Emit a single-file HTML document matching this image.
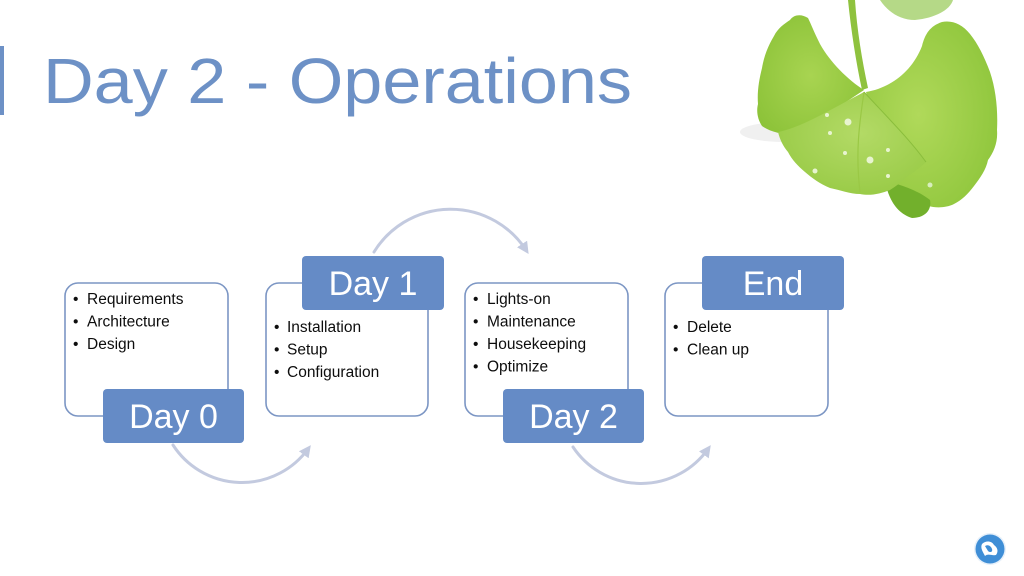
<!DOCTYPE html>
<html>
<head>
<meta charset="utf-8">
<style>
  html,body{margin:0;padding:0;background:#ffffff;}
  body{width:1024px;height:576px;overflow:hidden;}
  svg{display:block;}
  .t{font-family:"Liberation Sans",sans-serif;}
</style>
</head>
<body>
<svg width="1024" height="576" viewBox="0 0 1024 576" xmlns="http://www.w3.org/2000/svg">
  <defs>
    <marker id="ah" viewBox="0 0 10 10" refX="6" refY="5" markerWidth="4" markerHeight="4" orient="auto">
      <path d="M0,0 L10,5 L0,10 Z" fill="#c3cadf"/>
    </marker>
    <radialGradient id="lg" cx="0.4" cy="0.5" r="0.65">
      <stop offset="0" stop-color="#b0d95a"/>
      <stop offset="1" stop-color="#8fc63c"/>
    </radialGradient>
    <radialGradient id="lg2" cx="0.5" cy="0.5" r="0.7">
      <stop offset="0" stop-color="#a8d451"/>
      <stop offset="1" stop-color="#88c035"/>
    </radialGradient>
    <radialGradient id="lg3" cx="0.55" cy="0.4" r="0.7">
      <stop offset="0" stop-color="#b3da66"/>
      <stop offset="1" stop-color="#96c943"/>
    </radialGradient>
  </defs>

  <rect x="0" y="0" width="1024" height="576" fill="#ffffff"/>

  <!-- title -->
  <rect x="0" y="46" width="4" height="69" fill="#6d91c6"/>
  <text class="t" x="43" y="103" font-size="64" fill="#6d91c6" textLength="589" lengthAdjust="spacingAndGlyphs">Day 2 - Operations</text>

  <!-- leaf -->
  <g>
    <ellipse cx="785" cy="132" rx="45" ry="10" fill="#f0f0f0"/>
    <path d="M880,0 L953,0 C950,10 935,18 915,20 C900,20 888,12 880,0 Z" fill="#b5d987"/>
    <!-- stem -->
    <path d="M848,0 L855,0 C857,30 862,60 868,88 L862,90 C856,62 851,30 848,0 Z" fill="#8fc23e"/>
    <!-- left back leaf -->
    <path d="M864,90 C848,80 830,62 820,44 C814,32 811,24 808,18 C802,14 794,14 790,20 C784,24 778,28 774,36 C768,46 764,56 762,68 C759,80 757,92 758,104 C756,112 758,120 762,126 C770,132 782,134 795,136 Z" fill="url(#lg2)"/>
    <!-- right leaf -->
    <path d="M866,92 C890,88 912,72 922,46 C925,34 930,26 942,22 C952,20 962,24 970,34 C978,44 984,56 990,72 C996,90 998,110 997,130 C998,142 994,152 988,160 C986,170 980,178 974,186 C968,194 962,200 954,204 C946,208 936,208 928,206 C918,206 910,202 905,200 C890,170 876,130 866,92 Z" fill="url(#lg)"/>
    <!-- lower dark piece -->
    <path d="M885,180 C900,185 918,190 930,200 C932,210 925,218 912,218 C898,214 888,200 885,180 Z" fill="#72b02c"/>
    <!-- front leaf -->
    <path d="M864,92 C880,110 905,135 926,162 C920,168 914,172 908,176 C902,182 896,186 890,190 C880,194 870,196 860,194 C850,194 840,190 830,188 C820,184 812,178 805,172 C798,166 792,160 788,152 C783,146 780,140 778,132 C800,128 830,110 864,92 Z" fill="url(#lg3)"/>
    <path d="M864,92 C860,120 855,150 860,192" stroke="#9ac845" stroke-width="1.2" fill="none"/>
    <path d="M864,92 C890,120 910,140 926,162" stroke="#8abd3c" stroke-width="1" fill="none"/>
    <circle cx="848" cy="122" r="3.5" fill="#e8f4d0"/>
    <circle cx="870" cy="160" r="3.5" fill="#e8f4d0"/>
    <circle cx="827" cy="115" r="2" fill="#e8f4d0"/>
    <circle cx="830" cy="133" r="2" fill="#e8f4d0"/>
    <circle cx="815" cy="171" r="2.5" fill="#e8f4d0"/>
    <circle cx="845" cy="153" r="2" fill="#e8f4d0"/>
    <circle cx="888" cy="150" r="2" fill="#e8f4d0"/>
    <circle cx="888" cy="176" r="2" fill="#e8f4d0"/>
    <circle cx="930" cy="185" r="2.5" fill="#d8eebd"/>
  </g>

  <!-- arcs -->
  <g fill="none" stroke="#c3cadf" stroke-width="3" stroke-linecap="round">
    <path d="M374,252 A90,90 0 0 1 526,250" marker-end="url(#ah)"/>
    <path d="M173,445 A82,82 0 0 0 308,449" marker-end="url(#ah)"/>
    <path d="M573,447 A82,82 0 0 0 708,449" marker-end="url(#ah)"/>
  </g>

  <!-- outer boxes -->
  <g fill="#ffffff" stroke="#7c96c4" stroke-width="1.6">
    <rect x="65" y="283" width="163" height="133" rx="13"/>
    <rect x="266" y="283" width="162" height="133" rx="13"/>
    <rect x="465" y="283" width="163" height="133" rx="13"/>
    <rect x="665" y="283" width="163" height="133" rx="13"/>
  </g>

  <!-- label boxes -->
  <g fill="#658bc6">
    <rect x="103" y="389" width="141" height="54" rx="4"/>
    <rect x="302" y="256" width="142" height="54" rx="4"/>
    <rect x="503" y="389" width="141" height="54" rx="4"/>
    <rect x="702" y="256" width="142" height="54" rx="4"/>
  </g>
  <g class="t" font-size="34" fill="#ffffff" text-anchor="middle">
    <text x="173.5" y="428">Day 0</text>
    <text x="373" y="295">Day 1</text>
    <text x="573.5" y="428">Day 2</text>
    <text x="773" y="295">End</text>
  </g>

  <!-- bullets -->
  <g class="t" font-size="15.5" fill="#0d0d0d">
    <text x="73" y="304">•</text><text x="87" y="304">Requirements</text>
    <text x="73" y="326.5">•</text><text x="87" y="326.5">Architecture</text>
    <text x="73" y="349">•</text><text x="87" y="349">Design</text>

    <text x="274" y="332">•</text><text x="287" y="332">Installation</text>
    <text x="274" y="354.5">•</text><text x="287" y="354.5">Setup</text>
    <text x="274" y="377">•</text><text x="287" y="377">Configuration</text>

    <text x="473" y="304">•</text><text x="487" y="304">Lights-on</text>
    <text x="473" y="326.5">•</text><text x="487" y="326.5">Maintenance</text>
    <text x="473" y="349">•</text><text x="487" y="349">Housekeeping</text>
    <text x="473" y="371.5">•</text><text x="487" y="371.5">Optimize</text>

    <text x="673" y="332">•</text><text x="687" y="332">Delete</text>
    <text x="673" y="354.5">•</text><text x="687" y="354.5">Clean up</text>
  </g>

  <!-- logo -->
  <circle cx="990" cy="549" r="16" fill="#e6f0fa"/>
  <circle cx="990" cy="549" r="14.5" fill="#3f8ed6"/>
  <path d="M982,544 C986,540 992,541 994,545 C997,547 999,551 996,555 C992,556 988,553 985,556 C983,552 980,548 982,544 Z" fill="#ffffff"/>
  <path d="M985,546 C988,544 991,546 992,549 C993,552 990,553 988,551 Z" fill="#3f8ed6"/>
</svg>
</body>
</html>
